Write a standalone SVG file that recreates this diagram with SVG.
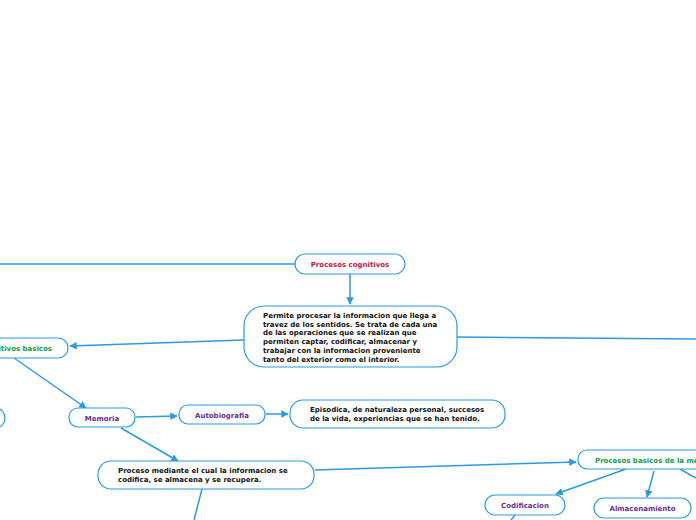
<svg xmlns="http://www.w3.org/2000/svg" width="696" height="520" viewBox="0 0 696 520">
<style>
.n{fill:#fff;stroke:#2a9be3;stroke-width:1.2}
.t{font-family:"DejaVu Sans",Verdana,sans-serif;font-weight:bold;font-size:7px}
.k{fill:#111}.r{fill:#d0103a}.g{fill:#0c9e4e}.p{fill:#6a2a9a}
.c{stroke:#2a9be3;stroke-width:1.5;fill:none}
</style>
<defs><marker id="a" viewBox="0 0 10 10" refX="9" refY="5" markerWidth="5" markerHeight="5" orient="auto"><path d="M0,0L10,5L0,10z" fill="#2a9be3"/></marker></defs>
<rect width="696" height="520" fill="#fff"/>
<g id="connectors">
<path class="c" d="M0,264H295"/>
<path class="c" d="M350,274V304" marker-end="url(#a)"/>
<path class="c" d="M244,340L70,346" marker-end="url(#a)"/>
<path class="c" d="M457,337L696,339"/>
<path class="c" d="M14,358L86,408" marker-end="url(#a)"/>
<path class="c" d="M136,417L177,416" marker-end="url(#a)"/>
<path class="c" d="M266,414H288" marker-end="url(#a)"/>
<path class="c" d="M121,428L178,461" marker-end="url(#a)"/>
<path class="c" d="M315,470L576,462" marker-end="url(#a)"/>
<path class="c" d="M202,489L194,520"/>
<path class="c" d="M626,469L556,494" marker-end="url(#a)"/>
<path class="c" d="M654,471L647,497" marker-end="url(#a)"/>
<path class="c" d="M680,469L696,478"/>
<path class="c" d="M515,515L511,520"/>
</g>
<g id="n1"><rect class="n" x="295" y="254" width="110" height="20" rx="10"/><text class="t r" x="350" y="267" text-anchor="middle">Procesos cognitivos</text></g>
<g id="n2"><rect class="n" x="244" y="306" width="213" height="61" rx="20"/>
<text class="t k" x="263" y="318">Permite procesar la informacion que llega a</text>
<text class="t k" x="263" y="326.7">travez de los sentidos. Se trata de cada una</text>
<text class="t k" x="263" y="335.4">de las operaciones que se realizan que</text>
<text class="t k" x="263" y="344.1">permiten captar, codificar, almacenar y</text>
<text class="t k" x="263" y="352.8">trabajar con la informacion proveniente</text>
<text class="t k" x="263" y="361.5">tanto del exterior como el interior.</text></g>
<g id="n3"><rect class="n" x="-60" y="338" width="128" height="20" rx="10"/><text class="t g" x="52" y="351" text-anchor="end">Procesos cognitivos basicos</text></g>
<g id="n4"><rect class="n" x="-40" y="408" width="45" height="20" rx="10"/></g>
<g id="n5"><rect class="n" x="69" y="408" width="66" height="19" rx="9"/><text class="t p" x="102" y="420.5" text-anchor="middle">Memoria</text></g>
<g id="n6"><rect class="n" x="179" y="405" width="86" height="19" rx="9"/><text class="t p" x="222" y="417.5" text-anchor="middle">Autobiografia</text></g>
<g id="n7"><rect class="n" x="290" y="400" width="215" height="28" rx="13"/>
<text class="t k" x="310" y="412">Episodica, de naturaleza personal, succesos</text>
<text class="t k" x="310" y="421">de la vida, experiencias que se han tenido.</text></g>
<g id="n8"><rect class="n" x="98" y="461" width="216" height="28" rx="13"/>
<text class="t k" x="118" y="473">Proceso mediante el cual la informacion se</text>
<text class="t k" x="118" y="482">codifica, se almacena y se recupera.</text></g>
<g id="n9"><rect class="n" x="578" y="450" width="140" height="19" rx="9"/><text class="t g" x="595" y="462.5">Procesos basicos de la memoria</text></g>
<g id="n10"><rect class="n" x="485" y="495" width="80" height="20" rx="10"/><text class="t p" x="525" y="508" text-anchor="middle">Codificacion</text></g>
<g id="n11"><rect class="n" x="594" y="498" width="97" height="20" rx="10"/><text class="t p" x="642.5" y="511" text-anchor="middle">Almacenamiento</text></g>
</svg>
